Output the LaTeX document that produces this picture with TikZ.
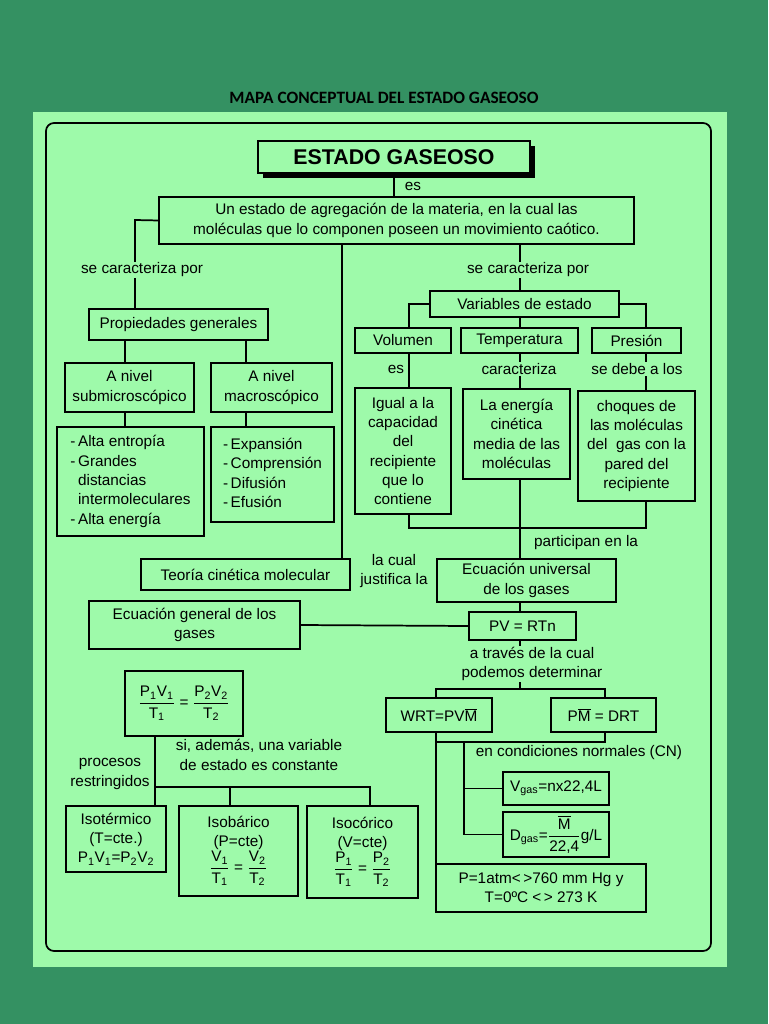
\documentclass[tikz,border=0pt]{standalone}
\usepackage{amsmath}
\usepackage{fontspec}
\setmainfont{Liberation Sans}
\newfontfamily\titlefont{Carlito}
\definecolor{outerg}{RGB}{52,145,98}
\definecolor{innerg}{RGB}{158,250,170}
\newcommand\bx[6]{\node[box,minimum width={(#4-#2)*0.75pt},minimum height={(#5-#3)*0.75pt}] (#1) at ({(#2+#4)/2},{(#3+#5)/2}) {#6};}
\newcommand\fr[2]{$\dfrac{\text{#1}}{\text{#2}}$}
\newcommand\sub[1]{\textsubscript{#1}}
\begin{document}
\begin{tikzpicture}[x=0.75pt,y=-0.75pt,
  box/.style={draw,line width=1.3pt,inner sep=1pt,outer sep=0pt,align=center,font=\fontsize{11.5}{14.5}\selectfont},
  lbl/.style={inner sep=1pt,align=center,font=\fontsize{11.5}{14.5}\selectfont},
  lblf/.style={lbl,fill=innerg},
  con/.style={line width=1.3pt}]
\fill[outerg] (0,0) rectangle (768,1024);
\fill[innerg] (33,112) rectangle (727,967);
\draw[line width=1.3pt,rounded corners=6pt] (46,123) rectangle (711,951);
\node[font=\titlefont\bfseries\fontsize{13}{15}\selectfont] (title) at (384,98) {MAPA CONCEPTUAL DEL ESTADO GASEOSO};
% boxes
\fill (263,146) rectangle (535,178);
\bx{eg}{258}{141}{530}{173}{\fontsize{16}{18}\selectfont\bfseries ESTADO GASEOSO}
\node[box,fill=innerg,minimum width={272*0.75pt},minimum height={32*0.75pt}] at (394,157) {\fontsize{16}{18}\selectfont\bfseries ESTADO GASEOSO};
\bx{un}{159}{197}{634}{244}{Un estado de agregación de la materia, en la cual las\\moléculas que lo componen poseen un movimiento caótico.}
\bx{prop}{89}{309}{268}{340}{Propiedades generales}
\bx{sub}{65}{363}{194}{412}{A nivel\\submicroscópico}
\bx{mac}{211}{363}{332}{412}{A nivel\\macroscópico}
\bx{listL}{57}{427}{204}{536}{\begin{tabular}{@{}l@{\,}l@{}}- & Alta entropía\\- & Grandes\\ & distancias\\ & intermoleculares\\- & Alta energía\end{tabular}}
\bx{listR}{211}{427}{334}{522}{\begin{tabular}{@{}l@{\,}l@{}}- & Expansión\\- & Comprensión\\- & Difusión\\- & Efusión\end{tabular}}
\bx{var}{430}{291}{619}{317}{Variables de estado}
\bx{vol}{355}{328}{451}{353}{Volumen}
\bx{temp}{461}{328}{578}{353}{Temperatura}
\bx{pres}{592}{328}{681}{353}{Presión}
\bx{igual}{355}{388}{451}{514}{Igual a la\\capacidad\\del\\recipiente\\que lo\\contiene}
\bx{ener}{463}{389}{570}{479}{La energía\\cinética\\media de las\\moléculas}
\bx{choq}{578}{391}{695}{501}{choques de\\las moléculas\\del \ gas con la\\pared del\\recipiente}
\bx{teo}{141}{559}{350}{590}{Teoría cinética molecular}
\bx{ecu}{437}{559}{616}{602}{Ecuación universal\\de los gases}
\bx{ecg}{89}{601}{300}{649}{Ecuación general de los\\gases}
\bx{pv}{469}{612}{576}{640}{PV = RTn}
\bx{wrt}{386}{698}{492}{732}{WRT=PV$\overline{\text{M}}$}
\bx{pm}{551}{698}{656}{732}{P$\overline{\text{M}}$ = DRT}
\bx{vg}{503}{772}{609}{805}{V\sub{gas}=nx22,4L}
\bx{dg}{503}{812}{609}{857}{D\sub{gas}=$\dfrac{\overline{\text{M}}}{\text{22,4}}$g/L}
\bx{patm}{436}{864}{646}{912}{P=1atm<\,>760 mm Hg y\\T=0ºC <\,> 273 K}
\bx{gen}{125}{671}{243}{736}{\fr{P\sub{1}V\sub{1}}{T\sub{1}} = \fr{P\sub{2}V\sub{2}}{T\sub{2}}}
\bx{isot}{66}{806}{166}{872}{Isotérmico\\(T=cte.)\\P\sub{1}V\sub{1}=P\sub{2}V\sub{2}}
\bx{isob}{179}{806}{298}{896}{Isobárico\\(P=cte)\\\fr{V\sub{1}}{T\sub{1}} = \fr{V\sub{2}}{T\sub{2}}}
\bx{isoc}{307}{806}{418}{898}{Isocórico\\(V=cte)\\\fr{P\sub{1}}{T\sub{1}} = \fr{P\sub{2}}{T\sub{2}}}
% coordinates
\coordinate (j1) at (135,220);
\coordinate (xa) at (125,0);
\coordinate (xb) at (246,0);
\coordinate (xt) at (342,0);
\coordinate (xr) at (520,0);
\coordinate (xl) at (409,0);
\coordinate (xp) at (646,0);
\coordinate (yb) at (0,528);
\coordinate (yv) at (0,304);
\coordinate (xw) at (436,0);
\coordinate (xm) at (605,0);
\coordinate (yh) at (0,689);
\coordinate (yc) at (0,742);
\coordinate (xc) at (464,0);
\coordinate (xg) at (155,0);
\coordinate (xi) at (230,0);
\coordinate (xo) at (370,0);
\coordinate (yi) at (0,787);
% connectors
\draw[con] (eg.south) -- (eg.south |- un.north);
\draw[con] (un.west) -- (j1) -- (j1 |- prop.north);
\draw[con] (prop.south -| xa) -- (sub.north -| xa);
\draw[con] (prop.south -| xb) -- (mac.north -| xb);
\draw[con] (sub.south -| xa) -- (listL.north -| xa);
\draw[con] (mac.south -| xb) -- (listR.north -| xb);
\draw[con] (un.south -| xt) -- (teo.north -| xt);
\draw[con] (un.south -| xr) -- (var.north -| xr);
\draw[con] (var.west) -- (var.west -| xl) -- (vol.north -| xl);
\draw[con] (var.east) -- (var.east -| xp) -- (pres.north -| xp);
\draw[con] (var.south -| xr) -- (temp.north -| xr);
\draw[con] (vol.south -| xl) -- (igual.north -| xl);
\draw[con] (temp.south -| xr) -- (ener.north -| xr);
\draw[con] (pres.south -| xp) -- (choq.north -| xp);
\draw[con] (igual.south -| xl) -- (yb -| xl) -- (yb -| xp) -- (choq.south -| xp);
\draw[con] (ener.south -| xr) -- (ecu.north -| xr);
\draw[con] (ecu.south -| xr) -- (pv.north -| xr);
\draw[con] (ecg.east) -- (pv.west);
\draw[con] (pv.south -| xr) -- (yh -| xr);
\draw[con] (wrt.north -| xw) -- (yh -| xw) -- (yh -| xm) -- (pm.north -| xm);
\draw[con] (pm.south -| xm) -- (yc -| xm) -- (yc -| xw);
\draw[con] (wrt.south -| xw) -- (patm.north -| xw);
\draw[con] (yc -| xc) -- (dg.west -| xc) -- (dg.west);
\draw[con] (vg.west -| xc) -- (vg.west);
\draw[con] (gen.south -| xg) -- (isot.north -| xg);
\draw[con] (yi -| xg) -- (yi -| xo) -- (isoc.north -| xo);
\draw[con] (yi -| xi) -- (isob.north -| xi);
% labels
\node[lbl] (les) at (413,186) {es};
\node[lblf] (lsc1) at (142,270) {se caracteriza por};
\node[lblf] (lsc2) at (528,270) {se caracteriza por};
\node[lbl] (les2) at (396,369) {es};
\node[lblf] (lcar) at (519,369) {caracteriza};
\node[lblf] (ldeb) at (637,369) {se debe a los};
\node[lbl] (lpar) at (586,543) {participan en la};
\node[lbl] (lcual) at (394,571) {la cual\\justifica la};
\node[lblf] (ltra) at (532,664) {a través de la cual\\podemos determinar};
\node[lbl] (lcn) at (579,753) {en condiciones normales (CN)};
\node[lbl] (lsi) at (259,755) {si, además, una variable\\de estado es constante};
\node[lbl] (lpro) at (110,774) {procesos\\restringidos};
\end{tikzpicture}
\end{document}
